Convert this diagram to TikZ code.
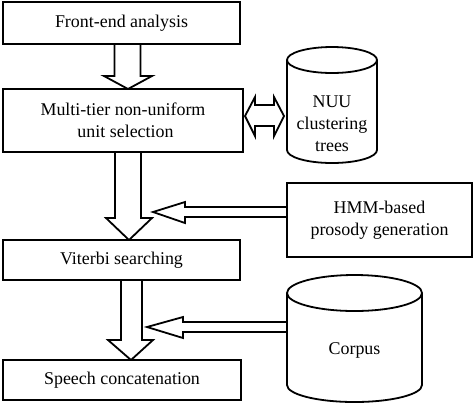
\documentclass[tikz,border=0pt]{standalone}
\usepackage{fontspec}
\setmainfont{Liberation Serif}
\begin{document}
\begin{tikzpicture}[x=1bp,y=-1bp,line width=1.8bp,
  txt/.style={font=\fontsize{18}{22}\selectfont},
  box/.style={draw,rectangle,fill=white,inner sep=0pt,align=center,txt},
  blk/.style={draw,fill=white,line join=miter},
  cyl/.style={draw,fill=white},
  lbl/.style={inner sep=0pt,align=center,txt}]
\useasboundingbox (0,0) rectangle (474,404);
% block arrows
\draw[blk] (114.5,44) -- (114.5,76) -- (104,76) -- (128,89) -- (152,76) -- (140.5,76) -- (140.5,44) -- cycle;
\draw[blk] (115,152) -- (115,218) -- (106,218) -- (129,240) -- (152,218) -- (141,218) -- (141,152) -- cycle;
\draw[blk] (121,280) -- (121,340) -- (108,340) -- (131,360) -- (153,340) -- (142,340) -- (142,280) -- cycle;
\draw[blk] (288,207) -- (185,207) -- (185,202) -- (153,212) -- (185,223) -- (185,217) -- (288,217) -- cycle;
\draw[blk] (288,322) -- (183,322) -- (183,317) -- (147,327) -- (183,338) -- (183,332) -- (288,332) -- cycle;
\draw[blk] (245,116) -- (255,97) -- (255,105) -- (274,105) -- (274,97) -- (284,116) -- (274,136) -- (274,126) -- (255,126) -- (255,136) -- cycle;
% boxes
\node[box,minimum width=237bp,minimum height=42bp] (fe) at (121.5,23) {Front-end analysis};
\node[box,minimum width=240bp,minimum height=63bp] (mt) at (123,120.5) {Multi-tier non-uniform\\\hspace*{5bp}unit selection};
\node[box,minimum width=237bp,minimum height=40bp] (vs) at (121.5,260) {Viterbi searching};
\node[box,minimum width=238bp,minimum height=40bp] (sc) at (122,380) {Speech concatenation};
\node[box,minimum width=185bp,minimum height=74bp] (hmm) at (379.5,220) {HMM-based\\prosody generation};
% cylinders
\draw[cyl] (287,60) -- (287,150) arc[start angle=180,end angle=360,x radius=45bp,y radius=13bp] -- (377,60);
\draw[cyl] (332,60) ellipse [x radius=45bp,y radius=13bp];
\node[lbl] (nuu) at (332,124) {NUU\\clustering\\trees};
\draw[cyl] (287,293) -- (287,385) arc[start angle=180,end angle=360,x radius=67.5bp,y radius=17bp] -- (422,293);
\draw[cyl] (354.5,293) ellipse [x radius=67.5bp,y radius=18bp];
\node[lbl] (corpus) at (354.5,350) {Corpus};
\end{tikzpicture}
\end{document}
